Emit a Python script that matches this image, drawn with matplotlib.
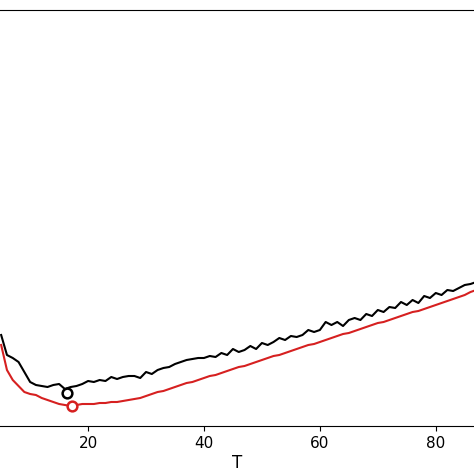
import matplotlib
matplotlib.use("Agg")
import matplotlib.pyplot as plt

# values in picture units (pixel rows from the top, converted below)
t = list(range(5, 88))
black_px = [335, 355, 358, 362, 372, 382, 385, 386, 387, 385, 384, 389, 387, 386, 384,
            381, 382, 380, 381, 377, 379, 377, 376, 376, 378, 372, 374, 370, 368, 367,
            364, 362, 360, 359, 358, 358, 356, 357, 353, 355, 349, 352, 350, 346, 349,
            343, 345, 342, 338, 340, 336, 337, 335, 330, 332, 330, 322, 325, 322, 326,
            320, 318, 320, 314, 316, 310, 312, 307, 308, 302, 305, 300, 303, 296, 298,
            293, 295, 290, 291, 288, 285, 284, 282]
red_px = [345, 370, 380, 386, 392, 394, 395, 398, 400, 402, 404, 405, 406, 405, 404,
          404, 404, 403, 403, 402, 402, 401, 400, 399, 398, 396, 394, 392, 391, 389,
          387, 385, 383, 382, 380, 378, 376, 375, 373, 371, 369, 367, 366, 364, 362,
          360, 358, 356, 355, 353, 351, 349, 347, 345, 344, 342, 340, 338, 336, 334,
          333, 331, 329, 327, 325, 323, 322, 320, 318, 316, 314, 312, 311, 309, 307,
          305, 303, 301, 299, 297, 295, 292, 290]
black_min = (16.3, 393)
red_min = (17.2, 406)

black = [426 - v for v in black_px]
red = [426 - v for v in red_px]

fig = plt.figure(figsize=(4.74, 4.74), dpi=100)
ax = fig.add_axes([0, 48 / 474, 1, 416 / 474])
ax.plot(t, black, color="black", linewidth=1.5)
ax.plot(t, red, color="#d62020", linewidth=1.5)
ax.plot(black_min[0], 426 - black_min[1], "o", mfc="white", mec="black", mew=1.8, ms=7)
ax.plot(red_min[0], 426 - red_min[1], "o", mfc="white", mec="#d62020", mew=1.8, ms=7)
ax.set_xlim(4.8, 86.6)
ax.set_ylim(0, 416)
ax.set_xticks([20, 40, 60, 80])
ax.set_yticks([])
ax.spines["left"].set_visible(False)
ax.spines["right"].set_visible(False)
ax.tick_params(labelsize=11)
ax.set_xlabel("T", fontsize=12, labelpad=2)

fig.savefig("out.png", dpi=100)
